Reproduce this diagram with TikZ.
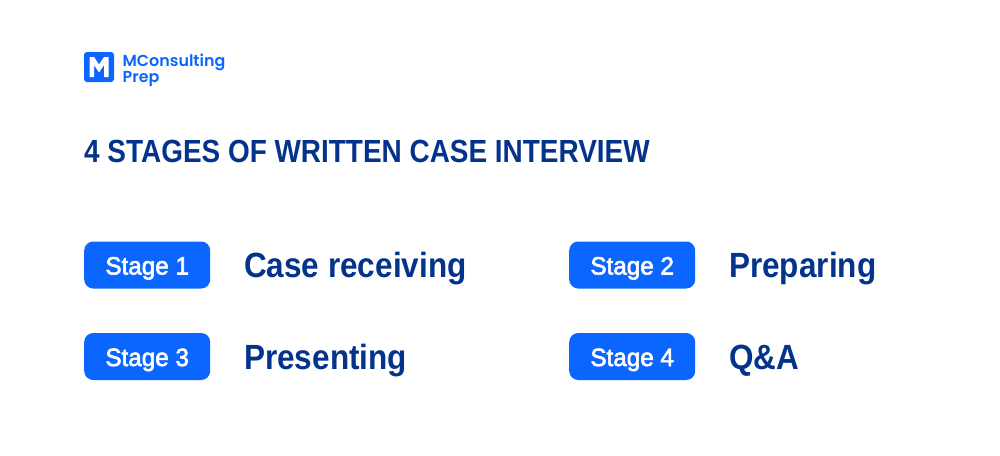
\documentclass[tikz,border=0pt]{standalone}
\usepackage{fontspec}
\setmainfont{Liberation Sans}
\newfontfamily\headfont{Liberation Sans}[UprightFont=* Bold,FakeStretch=0.9]
\newfontfamily\titlefont{Liberation Sans}[UprightFont=* Bold,FakeStretch=0.873]
\newfontfamily\badgefont{Liberation Sans}[FakeBold=2.5,FakeStretch=0.97]
\newfontfamily\logofont{Poppins}[UprightFont=* SemiBold]
\definecolor{brandblue}{HTML}{0A66FF}
\definecolor{navy}{HTML}{04338C}
\tikzset{
  x=1pt,y=-1pt,
  badge/.style={fill=brandblue,rounded corners=9pt,minimum width=126pt,minimum height=47pt,inner sep=0pt,anchor=west,text=white,text height=19pt,text depth=0pt,font=\badgefont\fontsize{25}{25}\selectfont},
  stagelabel/.style={anchor=base west,inner sep=0pt,text=navy,font=\headfont\fontsize{35}{35}\selectfont},
  titletext/.style={anchor=base west,inner sep=0pt,text=navy,font=\titlefont\fontsize{32}{32}\selectfont},
  logotext/.style={anchor=base west,inner sep=0pt,text=brandblue,font=\logofont\fontsize{15.9}{15.9}\selectfont},
}
\begin{document}
\begin{tikzpicture}
\useasboundingbox (0,0) rectangle (1000,455);
\fill[white] (0,0) rectangle (1000,455);
\node[fill=brandblue,rounded corners=3pt,minimum size=30pt,inner sep=0pt] (logo) at (99,67) {};
\fill[white] (89.5,57) -- (94,57) -- (99,64.5) -- (104,57) -- (108.5,57) -- (108.5,77) -- (104,77) -- (104,65) -- (99,72.5) -- (94,65) -- (94,77) -- (89.5,77) -- cycle;
\node[logotext] (brandA) at (122.5,66) {MConsulting};
\node[logotext] (brandB) at (122.5,82) {Prep};
\node[titletext] (title) at (84,162.5) {4 STAGES OF WRITTEN CASE INTERVIEW};
\node[badge] (s1) at (84,265) {Stage 1};
\node[badge] (s2) at (569,265) {Stage 2};
\node[badge] (s3) at (84,356.5) {Stage 3};
\node[badge] (s4) at (569,356.5) {Stage 4};
\node[stagelabel] (l1) at (244,277) {Case receiving};
\node[stagelabel] (l2) at (729,277) {Preparing};
\node[stagelabel] (l3) at (244,369) {Presenting};
\node[stagelabel] (l4) at (729,369) {Q\&A};
\end{tikzpicture}
\end{document}
